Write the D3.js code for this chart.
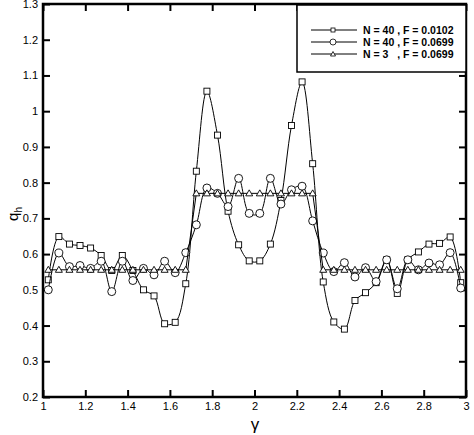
<!DOCTYPE html>
<html><head><meta charset="utf-8">
<script src="https://cdn.jsdelivr.net/npm/d3@7"></script>
<style>body{margin:0;background:#fff}svg{font-family:"Liberation Sans",Arial,sans-serif}</style>
</head><body>
<svg id="chart" width="474" height="435"></svg>
<script>
const xVals = d3.range(40).map(k => 1.025 + 0.05 * k);
const seriesF0102 = [0.528,0.649,0.628,0.624,0.617,0.596,0.554,0.596,0.554,0.50,0.483,0.405,0.409,0.517,
  0.832,1.056,0.933,0.72,0.626,0.581,0.581,0.628,0.75,0.96,1.082,0.853,
  0.522,0.41,0.39,0.47,0.492,0.52,0.584,0.49,0.584,0.606,0.628,0.63,0.648,0.52];
const seriesN40 = [0.50,0.603,0.565,0.568,0.56,0.58,0.495,0.58,0.526,0.56,0.542,0.58,0.548,0.604,
  0.682,0.785,0.77,0.733,0.812,0.714,0.714,0.812,0.74,0.78,0.79,0.693,
  0.603,0.551,0.576,0.536,0.562,0.523,0.584,0.503,0.584,0.556,0.575,0.57,0.604,0.505];
const seriesN3 = [0.556,0.556,0.556,0.556,0.556,0.556,0.556,0.556,0.556,0.556,0.556,0.556,0.556,0.556,
  0.77,0.77,0.77,0.77,0.77,0.77,0.77,0.77,0.77,0.77,0.77,0.77,
  0.556,0.556,0.556,0.556,0.556,0.556,0.556,0.556,0.556,0.556,0.556,0.556,0.556,0.556];
const xTicks = [1,1.2,1.4,1.6,1.8,2,2.2,2.4,2.6,2.8,3];
const yTicks = [0.2,0.3,0.4,0.5,0.6,0.7,0.8,0.9,1,1.1,1.2,1.3];
const legendLabels = ["N = 40 , F = 0.0102", "N = 40 , F = 0.0699", "N = 3   , F = 0.0699"];

const svg = d3.select("#chart");
const pLeft = 43, pRight = 466, pTop = 4, pBottom = 397;
const x = d3.scaleLinear().domain([1,3]).range([pLeft,pRight]);
const y = d3.scaleLinear().domain([0.2,1.3]).range([pBottom,pTop]);

// axes with inward ticks
const fmt = d => d3.format("")(d);
svg.append("g").attr("transform",`translate(0,${pBottom})`)
  .call(d3.axisBottom(x).tickValues(xTicks).tickFormat(fmt).tickSizeInner(-7).tickSizeOuter(0).tickPadding(5))
  .call(g => g.select(".domain").remove());
svg.append("g").attr("transform",`translate(${pLeft},0)`)
  .call(d3.axisLeft(y).tickValues(yTicks).tickFormat(fmt).tickSizeInner(-7).tickSizeOuter(0).tickPadding(5))
  .call(g => g.select(".domain").remove());
svg.append("g").attr("transform",`translate(0,${pTop})`)
  .call(d3.axisTop(x).tickValues(xTicks).tickFormat("").tickSizeInner(-7).tickSizeOuter(0))
  .call(g => g.select(".domain").remove());
svg.append("g").attr("transform",`translate(${pRight},0)`)
  .call(d3.axisRight(y).tickValues(yTicks).tickFormat("").tickSizeInner(-7).tickSizeOuter(0))
  .call(g => g.select(".domain").remove());
svg.selectAll(".tick line").attr("stroke","#000").attr("stroke-width",2);
svg.selectAll(".tick text").attr("font-size",11).attr("fill","#000");
svg.append("rect").attr("x",pLeft).attr("y",pTop).attr("width",pRight-pLeft).attr("height",pBottom-pTop)
  .attr("fill","none").attr("stroke","#000").attr("stroke-width",2.5);

const line = d3.line().x((d,i) => x(xVals[i])).y(d => y(d)).curve(d3.curveCatmullRom);
const lineStraight = d3.line().x((d,i) => x(xVals[i])).y(d => y(d));

function marker(g, type, cx, cy) {
  if (type === "square") g.append("rect").attr("x",cx-3).attr("y",cy-3).attr("width",6).attr("height",6);
  else if (type === "circle") g.append("circle").attr("cx",cx).attr("cy",cy).attr("r",4);
  else g.append("path").attr("d",`M${cx},${cy-3.5}L${cx+3.5},${cy+2.5}L${cx-3.5},${cy+2.5}Z`);
}
const series = [
  {data: seriesF0102, type: "square", gen: line},
  {data: seriesN40, type: "circle", gen: line},
  {data: seriesN3, type: "triangle", gen: lineStraight}
];
series.forEach(s => {
  svg.append("path").attr("d", s.gen(s.data)).attr("fill","none").attr("stroke","#000").attr("stroke-width",1);
  const g = svg.append("g").attr("fill","#fff").attr("stroke","#000").attr("stroke-width",0.9);
  s.data.forEach((v,i) => marker(g, s.type, x(xVals[i]), y(v)));
});

// legend
const lg = svg.append("g");
lg.append("rect").attr("x",297).attr("y",5).attr("width",169).attr("height",67)
  .attr("fill","#fff").attr("stroke","#000").attr("stroke-width",1.5);
series.forEach((s,i) => {
  const ly = 30 + i*12;
  lg.append("line").attr("x1",311).attr("x2",357).attr("y1",ly).attr("y2",ly).attr("stroke","#000");
  const g = lg.append("g").attr("fill","#fff").attr("stroke","#000").attr("stroke-width",0.8);
  if (s.type === "square") g.append("rect").attr("x",331).attr("y",ly-2).attr("width",4).attr("height",4);
  else if (s.type === "circle") g.append("circle").attr("cx",333).attr("cy",ly).attr("r",3);
  else g.append("path").attr("d",`M333,${ly-2.5}L335.5,${ly+2}L330.5,${ly+2}Z`);
  lg.append("text").attr("x",363).attr("y",ly+4).attr("font-size",10.5).attr("font-weight","bold")
    .attr("xml:space","preserve").style("white-space","pre").text(legendLabels[i]);
});

// axis titles
svg.append("text").attr("x",255).attr("y",430).attr("text-anchor","middle").attr("font-size",17).text("γ");
const yl = svg.append("text").attr("transform","translate(18,214) rotate(-90)").attr("text-anchor","middle").attr("font-size",15);
yl.append("tspan").text("q");
yl.append("tspan").attr("font-size",10).attr("dy",4).text("h");
</script>
</body></html>
